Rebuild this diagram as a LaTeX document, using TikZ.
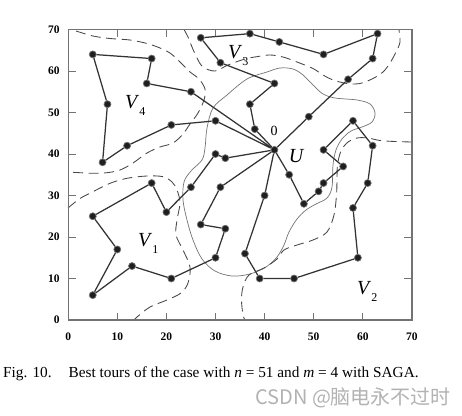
\documentclass[tikz,border=0pt]{standalone}
\usepackage{fontspec}
\setmainfont{Liberation Serif}
\newfontfamily\cjk{Noto Sans CJK SC}
\begin{document}
\begin{tikzpicture}[x=1pt,y=-1pt,
  dot/.style={circle,fill=black!88,draw=black!55,line width=0.7pt,inner sep=0pt,minimum size=7pt},
  tour/.style={line width=1.25pt,draw=black!80},
  ubound/.style={line width=0.7pt,draw=black!55},
  vbound/.style={line width=0.85pt,draw=black!72,dash pattern=on 10pt off 5.5pt},
  frame/.style={line width=1.4pt,draw=black!55},
  tickmark/.style={line width=0.9pt,draw=black!55},
  ticklab/.style={font=\fontsize{11.5}{11.5}\selectfont\bfseries,inner sep=0pt},
  vlab/.style={font=\fontsize{20}{20}\selectfont,inner sep=0pt,anchor=base west},
  sublab/.style={font=\fontsize{12}{12}\selectfont}]
\useasboundingbox (0,0) rectangle (462,415);

% region boundaries (pixel coordinates)
\draw[ubound] plot[smooth cycle,tension=0.55] coordinates {
 (213,108) (227,95) (247,79) (267,72) (280,68) (293,69) (303,75) (313,85)
 (323,94) (335,98) (357,100) (370,104) (375,113) (372,122) (362,127) (351,131)
 (342,139) (336,150) (333,165) (332,187) (327,198) (316,204) (306,210) (297,219)
 (289,232) (284,245) (277,257) (266,267) (250,274) (232,276) (215,271) (202,259)
 (193,240) (187,220) (183,200) (184,182) (191,171) (202,160) (205,148) (207,128)};
\draw[vbound] plot[smooth,tension=0.55] coordinates {
 (76,31) (93,36) (110,38.5) (130,40) (147,43.5) (160,48) (170,53) (177,59) (183,65)
 (190,72) (199,79) (205,89) (204,100) (198,113) (190,124) (183,134) (173,143)
 (160,147) (147,153) (133,163) (120,170) (107,172.7) (93,173.3) (80,172.7) (68,172)};
\draw[vbound] plot[smooth,tension=0.55] coordinates {
 (68,208) (80,198.5) (93,191.7) (110,183.3) (127,178.3) (147,176) (163,176.7)
 (172,182) (177,190) (180,203) (177,220) (176,235) (183,250) (190,267) (188,283)
 (181,293) (167,300) (150,307) (137,317) (134,320)};
\draw[vbound] plot[smooth,tension=0.55] coordinates {
 (184,29.5) (188,37) (192,47) (197,58) (203,67) (215,71) (228,65) (245,59)
 (258,56.5) (270,55) (283,57) (297,62) (313,68.5) (323,75) (333,80) (347,83.5)
 (360,83.5) (373,78.5) (383,72) (390,63) (396,52) (400,42) (399,30)};
\draw[vbound] plot[smooth,tension=0.55] coordinates {
 (412,142) (395,141.5) (380,140.5) (368,138) (357,138) (348,142) (341,151)
 (337.5,165) (337,180) (336.5,195) (334,215) (327,232) (313,240) (297,245)
 (284,250) (277,259) (264,268) (249,275) (243,287) (241.5,300) (243,315) (245,320)};

% frame
\draw[frame] (68.2,29.5) rectangle (412,320);

\begin{scope}[shift={(68.2,320)},x=4.91pt,y=4.15pt]
  \foreach \t in {10,20,...,60} {
    \draw[tickmark] (\t,0) -- ++(0,1.7);
    \draw[tickmark] (\t,70) -- ++(0,-1.7);
    \draw[tickmark] (0,\t) -- ++(1.6,0);
    \draw[tickmark] (70,\t) -- ++(-1.6,0);
  }
  \foreach \t in {0,10,...,70} {
    \node[ticklab] (xl\t) at (\t,-4) {\t};
    \node[ticklab,anchor=east] (yl\t) at (-1.7,\t) {\t};
  }
  % depot
  \node[dot] (d) at (42,41) {};
  % V4
  \node[dot] (a1) at (25,55) {};
  \node[dot] (a2) at (16,57) {};
  \node[dot] (a3) at (17,63) {};
  \node[dot] (a4) at (5,64) {};
  \node[dot] (a5) at (8,52) {};
  \node[dot] (a6) at (7,38) {};
  \node[dot] (a7) at (12,42) {};
  \node[dot] (a8) at (21,47) {};
  \node[dot] (a9) at (30,48) {};
  % V3
  \node[dot] (b1) at (49,49) {};
  \node[dot] (b2) at (57,58) {};
  \node[dot] (b3) at (62,63) {};
  \node[dot] (b4) at (63,69) {};
  \node[dot] (b5) at (52,64) {};
  \node[dot] (b6) at (43,67) {};
  \node[dot] (b7) at (37,69) {};
  \node[dot] (b8) at (27,68) {};
  \node[dot] (b9) at (31,62) {};
  \node[dot] (b10) at (42,57) {};
  \node[dot] (b11) at (37,52) {};
  \node[dot] (b12) at (38,46) {};
  % V1
  \node[dot] (c1) at (32,39) {};
  \node[dot] (c2) at (30,40) {};
  \node[dot] (c3) at (25,32) {};
  \node[dot] (c4) at (20,26) {};
  \node[dot] (c5) at (17,33) {};
  \node[dot] (c6) at (5,25) {};
  \node[dot] (c7) at (10,17) {};
  \node[dot] (c8) at (5,6) {};
  \node[dot] (c9) at (13,13) {};
  \node[dot] (c10) at (21,10) {};
  \node[dot] (c11) at (30,15) {};
  \node[dot] (c12) at (32,22) {};
  \node[dot] (c13) at (27,23) {};
  \node[dot] (c14) at (31,32) {};
  % V2
  \node[dot] (e1) at (45,35) {};
  \node[dot] (e2) at (48,28) {};
  \node[dot] (e3) at (51,31) {};
  \node[dot] (e4) at (52,33) {};
  \node[dot] (e5) at (56,37) {};
  \node[dot] (e6) at (52,41) {};
  \node[dot] (e7) at (58,48) {};
  \node[dot] (e8) at (62,42) {};
  \node[dot] (e9) at (61,33) {};
  \node[dot] (e10) at (58,27) {};
  \node[dot] (e11) at (59,15) {};
  \node[dot] (e12) at (46,10) {};
  \node[dot] (e13) at (39,10) {};
  \node[dot] (e14) at (36,16) {};
  \node[dot] (e15) at (40,30) {};
\end{scope}

% tours
\draw[tour] (d) -- (a1) -- (a2) -- (a3) -- (a4) -- (a5) -- (a6) -- (a7) -- (a8) -- (a9) -- (d);
\draw[tour] (d) -- (b1) -- (b2) -- (b3) -- (b4) -- (b5) -- (b6) -- (b7) -- (b8) -- (b9) -- (b10) -- (b11) -- (b12) -- (d);
\draw[tour] (d) -- (c1) -- (c2) -- (c3) -- (c4) -- (c5) -- (c6) -- (c7) -- (c8) -- (c9) -- (c10) -- (c11) -- (c12) -- (c13) -- (c14) -- (d);
\draw[tour] (d) -- (e1) -- (e2) -- (e3) -- (e4) -- (e5) -- (e6) -- (e7) -- (e8) -- (e9) -- (e10) -- (e11) -- (e12) -- (e13) -- (e14) -- (e15) -- (d);

% labels
\node[vlab] (v4) at (125,108) {\textit{V}\raisebox{-0.35em}{\fontsize{12}{12}\selectfont 4}};
\node[vlab] (v3) at (228,58) {\textit{V}\raisebox{-0.35em}{\fontsize{12}{12}\selectfont 3}};
\node[vlab] (v1) at (138,246) {\textit{V}\raisebox{-0.35em}{\fontsize{12}{12}\selectfont 1}};
\node[vlab] (v2) at (357,294) {\textit{V}\raisebox{-0.35em}{\fontsize{12}{12}\selectfont 2}};
\node[font=\fontsize{14}{14}\selectfont,inner sep=0pt] (lab0) at (274,130.5) {0};
\node[font=\fontsize{20}{20}\selectfont\itshape,inner sep=0pt] (labU) at (296,156.3) {U};

% caption
\node[anchor=base west,inner sep=0pt,font=\fontsize{15.3}{15.3}\selectfont] (cap) at (3,377)
  {Fig. 10.\hspace{17pt}Best tours of the case with \textit{n} = 51 and \textit{m} = 4 with SAGA.};
\node[anchor=base west,inner sep=0pt,text=black!30,font=\cjk\fontsize{20}{20}\selectfont] (wm) at (255,404)
  {CSDN @脑电永不过时};
\end{tikzpicture}
\end{document}
